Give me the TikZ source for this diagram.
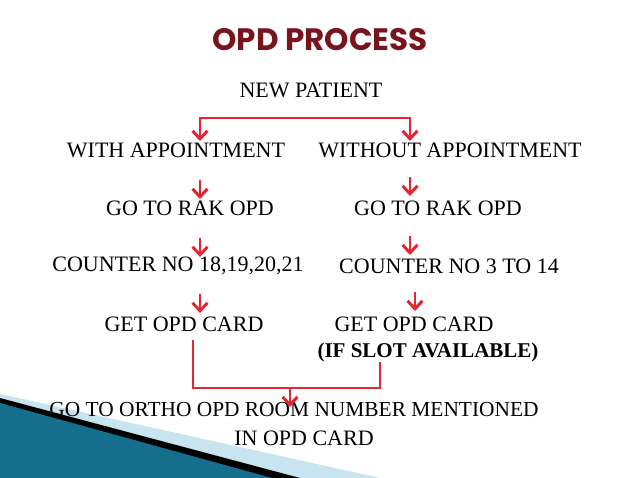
\documentclass[tikz,border=0pt]{standalone}
\usepackage{fontspec}
\setmainfont{Liberation Serif}
\newfontfamily\titlefont{Poppins}
\usetikzlibrary{arrows.meta}
\definecolor{tred}{RGB}{120,20,30}
\definecolor{ared}{RGB}{225,40,50}
\definecolor{teal1}{RGB}{20,110,140}
\definecolor{lblue}{RGB}{200,228,240}
\begin{document}
\begin{tikzpicture}[x=1pt,y=-1pt,
  txt/.style={font=\fontsize{22}{26}\selectfont,inner sep=0pt},
  ln/.style={draw=ared,line width=2.4pt},
  arr/.style={ln,-{Straight Barb[length=8pt,width=15pt,line width=3pt]}}]
\useasboundingbox (0,0) rectangle (638,478);
\fill[white] (0,0) rectangle (638,478);
% decoration
\fill[lblue] (0,394) -- (380,478) -- (0,478) -- cycle;
\fill[black] (0,398) -- (300,478) -- (0,478) -- cycle;
\fill[teal1] (0,403) -- (272,478) -- (0,478) -- cycle;
\node[inner sep=0pt,font=\titlefont\bfseries\fontsize{31}{33}\selectfont,text=tred] (title) at (320,40) {OPD PROCESS};
\node[txt] (np) at (311,90) {NEW PATIENT};
\node[txt] (wa) at (176,150) {WITH APPOINTMENT};
\node[txt] (woa) at (450,150) {WITHOUT APPOINTMENT};
\node[txt] (r1) at (190,208) {GO TO RAK OPD};
\node[txt] (r2) at (438,208) {GO TO RAK OPD};
\node[txt] (c1) at (178,266) {COUNTER NO 18,19,20,21};
\node[txt] (c2) at (449,266) {COUNTER NO 3 TO 14};
\node[txt] (g1) at (184,324) {GET OPD CARD};
\node[txt] (g2) at (414,324) {GET OPD CARD};
\node[txt,font=\bfseries\fontsize{21}{24}\selectfont] (slot) at (428,352) {(IF SLOT AVAILABLE)};
\node[txt,font=\fontsize{21.4}{25}\selectfont] (ortho) at (294,410) {GO TO ORTHO OPD ROOM NUMBER MENTIONED};
\node[txt] (card) at (304,438) {IN OPD CARD};
% connectors
\draw[ln] (200,118) -- (410,118);
\draw[arr] (200,117) -- (200,141);
\draw[arr] (410,117) -- (410,141);
\draw[arr] (200,180) -- (200,199);
\draw[arr] (410,177) -- (410,196);
\draw[arr] (200,238) -- (200,257);
\draw[arr] (410,236) -- (410,255);
\draw[arr] (200,294) -- (200,313);
\draw[arr] (415,292) -- (415,311);
\draw[ln] (193,340) |- (380,388) -- (380,362);
\draw[arr] (290,388) -- (290,407);
\end{tikzpicture}
\end{document}
